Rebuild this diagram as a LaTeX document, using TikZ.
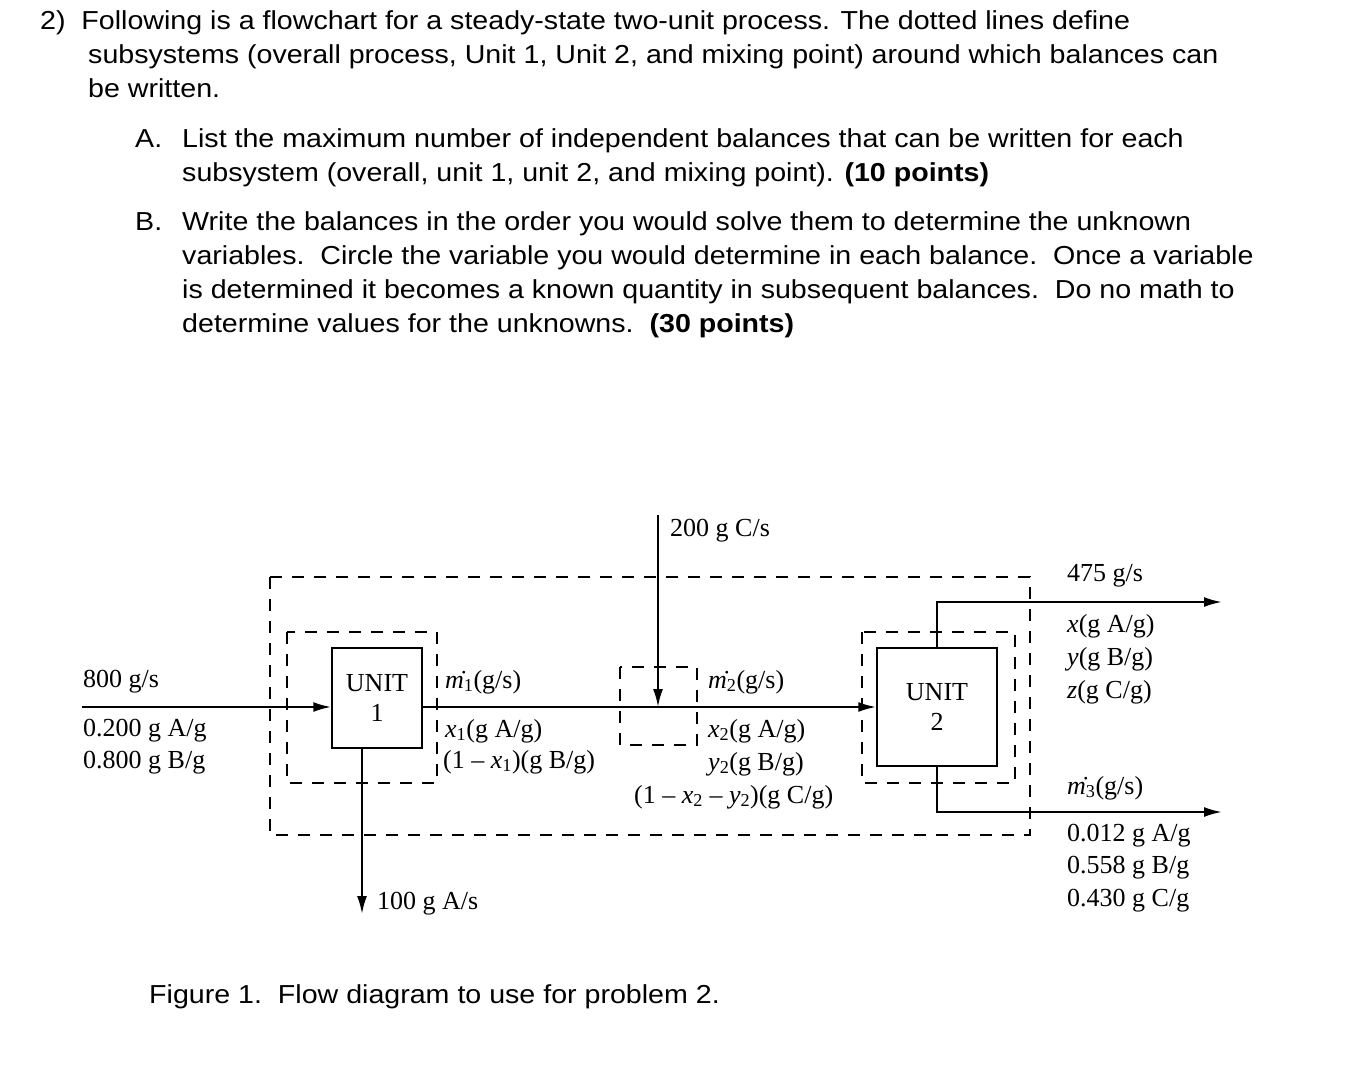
\documentclass[tikz,border=0pt]{standalone}
\usepackage{fontspec}
\setmainfont{Liberation Serif}
\newfontfamily\hsans[FakeStretch=1.1]{Liberation Sans}
\usetikzlibrary{arrows.meta}
\newcommand{\vv}[1]{\textit{#1}}
\newcommand{\sbs}[1]{\textsubscript{#1}}
\newcommand{\mdot}{\.{\textit{m}}}
\tikzset{
  q/.style={font=\hsans\fontsize{26}{30}\selectfont, anchor=base west, inner sep=0},
  t/.style={font=\fontsize{26}{30}\selectfont, anchor=west, inner sep=0},
  unit/.style={draw, line width=1.5pt, minimum width=90pt, minimum height=100pt, align=center, font=\fontsize{26}{30}\selectfont},
  sub/.style={draw, line width=1.3pt, dash pattern=on 12pt off 10pt},
  flow/.style={line width=2.2pt, -{Latex[length=18pt,width=10pt]}}
}
\begin{document}
\begin{tikzpicture}[x=1pt,y=-1pt]
\useasboundingbox (0,0) rectangle (1355,1080);
% question text
\node[q] (l1) at (40,29) {2)\ \ Following is a flowchart for a steady-state two-unit process. The dotted lines define};
\node[q] (l2) at (88,63) {subsystems (overall process, Unit 1, Unit 2, and mixing point) around which balances can};
\node[q] (l3) at (88,97) {be written.};
\node[q] (a0) at (135,147) {A.};
\node[q] (a1) at (182,147) {List the maximum number of independent balances that can be written for each};
\node[q] (a2) at (182,181) {subsystem (overall, unit 1, unit 2, and mixing point). \textbf{(10 points)}};
\node[q] (b0) at (135,230) {B.};
\node[q] (b1) at (182,230) {Write the balances in the order you would solve them to determine the unknown};
\node[q] (b2) at (182,264) {variables.\ \ Circle the variable you would determine in each balance.\ \ Once a variable};
\node[q] (b3) at (182,298) {is determined it becomes a known quantity in subsequent balances.\ \ Do no math to};
\node[q] (b4) at (182,332) {determine values for the unknowns.\ \ \textbf{(30 points)}};
\node[q] (cap) at (149,1003) {Figure 1.\ \ Flow diagram to use for problem 2.};

% subsystems
\draw[sub] (270,577) rectangle (1030,835);
\draw[sub] (287,632) rectangle (437,783);
\draw[sub] (862,632) rectangle (1015,783);
\draw[sub] (620,667) rectangle (697,745);

% units
\node[unit] (u1) at (377,698) {UNIT\\1};
\node[unit, minimum width=120pt, minimum height=118pt] (u2) at (937,707) {UNIT\\2};

% streams
\coordinate (in) at (82,707);
\coordinate (top) at (658,515);
\coordinate (mix) at (658,707);
\coordinate (bot) at (362,914);
\coordinate (o1a) at (937,602);
\coordinate (o1) at (1222,602);
\coordinate (o2a) at (937,812);
\coordinate (o2) at (1222,812);
\draw[flow] (in) -- (u1.west |- in);
\draw[flow] (u1.east |- in) -- (u2.west |- in);
\draw[flow] (top) -- (mix);
\draw[flow] (u1.south -| bot) -- (bot);
\draw[flow] (u2.north) -- (o1a) -- (o1);
\draw[flow] (u2.south) -- (o2a) -- (o2);

% labels
\node[t] (f0) at (83,682) {800 g/s};
\node[t] (f1) at (83,731) {0.200 g A/g};
\node[t] (f2) at (83,763) {0.800 g B/g};
\node[t] (c0) at (670,531) {200 g C/s};
\node[t] (m1) at (445,682) {\mdot\sbs{1}(g/s)};
\node[t] (m1a) at (445,731) {\vv{x}\sbs{1}(g A/g)};
\node[t] (m1b) at (443,762) {(1 -- \vv{x}\sbs{1})(g B/g)};
\node[t] (m2) at (708,682) {\mdot\sbs{2}(g/s)};
\node[t] (m2a) at (708,731) {\vv{x}\sbs{2}(g A/g)};
\node[t] (m2b) at (708,764) {\vv{y}\sbs{2}(g B/g)};
\node[t] (m2c) at (634,797) {(1 -- \vv{x}\sbs{2} -- \vv{y}\sbs{2})(g C/g)};
\node[t] (p0) at (1067,576) {475 g/s};
\node[t] (p1) at (1067,626) {\vv{x}(g A/g)};
\node[t] (p2) at (1067,659) {\vv{y}(g B/g)};
\node[t] (p3) at (1067,692) {\vv{z}(g C/g)};
\node[t] (r0) at (1067,788) {\mdot\sbs{3}(g/s)};
\node[t] (r1) at (1067,836) {0.012 g A/g};
\node[t] (r2) at (1067,868) {0.558 g B/g};
\node[t] (r3) at (1067,901) {0.430 g C/g};
\node[t] (w0) at (377,904) {100 g A/s};
\end{tikzpicture}
\end{document}
